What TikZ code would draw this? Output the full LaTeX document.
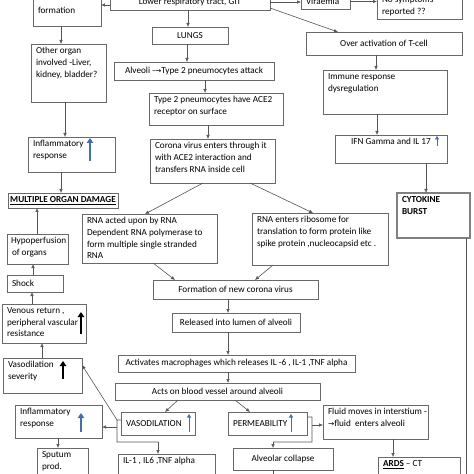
\documentclass[tikz,border=0pt]{standalone}
\usepackage{fontspec}
\setmainfont{Carlito}
\newfontfamily\djv{DejaVu Sans}
\usetikzlibrary{arrows.meta}
\definecolor{arblue}{RGB}{70,110,170}
\definecolor{lncol}{RGB}{85,85,85}
\definecolor{bxcol}{RGB}{105,105,105}
\newcommand\rarr{{\djv\fontsize{7.5bp}{10bp}\selectfont →}}
\newcommand\bxt[7][\raggedright]{\node[box,anchor=north west] (#2) at (#3,#4) {\parbox[c][\dimexpr#6bp-#4bp\relax][t]{\dimexpr#5bp-#3bp-10bp\relax}{#1\vspace*{3.5bp}#7}};}
\newcommand\bxc[7][\centering]{\node[box,anchor=north west] (#2) at (#3,#4) {\parbox[c][\dimexpr#6bp-#4bp\relax][c]{\dimexpr#5bp-#3bp-10bp\relax}{#1#7}};}
\newcommand\vcon[3]{\coordinate (tmpx) at (#3,0); \draw[arr] (#1.south -| tmpx) -- (#2.north -| tmpx);}
\newcommand\vup[3]{\coordinate (tmpx) at (#3,0); \draw[arr] (#1.north -| tmpx) -- (#2.south -| tmpx);}
\newcommand\dcon[4]{\coordinate (tmpa) at (#3,0); \coordinate (tmpb) at (#4,0); \draw[arr] (#1.south -| tmpa) -- (#2.north -| tmpb);}
\tikzset{
  box/.style={draw=bxcol, line width=0.7bp, inner xsep=5bp, inner ysep=0pt, outer sep=0pt, text=black, font=\fontsize{9.2bp}{11.7bp}\selectfont},
  arr/.style={draw=lncol, line width=0.6bp, -{Latex[length=4bp,width=3.6bp]}},
  ln/.style={draw=lncol, line width=0.6bp},
  bigup/.style={line width=2.3bp, -{Triangle[length=5bp,width=6.5bp]}},
  smallup/.style={line width=1bp, -{Triangle[length=3.5bp,width=4bp]}}
}
\begin{document}
\begin{tikzpicture}[x=1bp,y=-1bp]
\useasboundingbox (0,0) rectangle (474,474);
\fill[white] (0,0) rectangle (474,474);
\clip (0,0) rectangle (474,474);
% top row
\bxc[\raggedright]{form}{33}{-6}{101}{26}{formation}
\bxc{lrt}{110}{-6}{270}{10}{Lower respiratory tract, GIT}
\bxc[\raggedright]{vir}{301}{-6}{350}{9}{Viraemia}
\bxc[\raggedright]{nos}{377}{-6}{462}{19}{No symptoms\\reported ??}
% centre column
\bxc{lungs}{152}{27}{228}{44}{LUNGS}
\bxc{alv}{114}{62}{274}{80}{Alveoli -\rarr Type 2 pneumocytes attack}
\bxt{type2}{149}{93}{283}{125}{Type 2 pneumocytes have ACE2\\receptor on surface}
\bxt{corona}{150}{139}{275}{183}{Corona virus enters through it\\with ACE2 interaction and\\transfers RNA inside cell}
\bxt{rnaa}{82}{214}{217}{263}{RNA acted upon by RNA\\Dependent RNA polymerase to\\form multiple single stranded\\RNA}
\bxt{rnab}{252}{213}{388}{265}{RNA enters ribosome for\\translation to form protein like\\spike protein ,nucleocapsid etc .}
\bxc{formv}{153}{280}{318}{299}{Formation of new corona virus}
\bxc{rel}{172}{313}{300}{332}{Released into lumen of alveoli}
\bxc{act}{118}{355}{355}{372}{\makebox[\linewidth]{Activates macrophages which releases IL -6 , IL-1 ,TNF alpha}}
\bxc{acts}{115}{383}{320}{400}{Acts on blood vessel around alveoli}
\bxc[\raggedright]{vaso}{121}{412}{195}{435}{VASODILATION}
\bxc[\raggedright]{perm}{228}{412}{307}{435}{PERMEABILITY}
\bxc{alvc}{233}{448}{333}{470}{Alveolar collapse}
\bxt{il}{118}{454}{215}{490}{IL-1 , IL6 ,TNF alpha}
\bxt{fluid}{323}{405}{428}{439}{\mbox{Fluid moves in interstium -}\\\mbox{\rarr fluid\ \ enters alveoli}}
\bxt{ards}{378}{457}{460}{490}{\textbf{\underline{ARDS}} – CT}
% right column
\bxc{tcell}{306}{32}{462}{55}{Over activation of T-cell}
\bxt{imm}{323}{70}{447}{114}{Immune response\\dysregulation}
\bxt{ifn}{335}{135}{447}{163}{\hspace*{11bp}IFN Gamma and IL 17}
\bxt{cyto}{397}{193}{470}{238}{\textbf{CYTOKINE}\\\textbf{BURST}}
\draw[bxcol!85, line width=2bp] (cyto.north west) rectangle (cyto.south east);
% left column
\bxt{other}{31}{44}{106}{102}{Other organ\\involved -Liver,\\kidney, bladder?}
\bxt{infla}{28}{137}{115}{172}{Inflammatory\\response}
\bxc{mod}{8}{193}{118}{208}{\makebox[\linewidth]{\textbf{\underline{MULTIPLE ORGAN DAMAGE}}}}
\bxt{hypo}{7}{234}{68}{264}{\hspace*{-1bp}\mbox{Hypoperfusion}\\of organs}
\bxc[\raggedright]{shock}{7}{275}{63}{292}{Shock}
\bxt{ven}{2}{304}{86}{343}{Venous return ,\\peripheral vascular\\resistance}
\bxt{vsev}{3}{358}{82}{393}{Vasodilation\\severity}
\bxt{inflb}{15}{405}{102}{438}{Inflammatory\\response}
\bxt{sput}{37}{448}{88}{490}{Sputum\\prod.}
% up arrows inside boxes
\draw[bigup, arblue] (90,161) -- (90,138);
\draw[bigup, black] (81,334) -- (81,312);
\draw[bigup, black, line width=1.8bp] (63,379) -- (63,361);
\draw[bigup, arblue, line width=1.6bp] (81,432) -- (81,413);
\draw[smallup, arblue] (437,146) -- (437,136);
\draw[smallup, arblue] (189,432) -- (189,414);
\draw[smallup, arblue] (291,432) -- (291,414);
% connectors
\path ([yshift=-3bp]lrt.west) coordinate (c1);
\draw[arr] (c1) -- (c1 -| form.east);
\draw[arr] (lrt.east) -- (lrt.east -| vir.west);
\draw[arr] (vir.east) -- (vir.east -| nos.west);
\coordinate (tx) at (338,0);
\draw[arr] ([yshift=2bp]lrt.south east) -- (tcell.north -| tx);
\vcon{lrt}{lungs}{188}
\vcon{form}{other}{61}
\vcon{lungs}{alv}{187}
\vcon{alv}{type2}{205}
\vcon{type2}{corona}{208}
\dcon{corona}{rnaa}{203}{145}
\dcon{corona}{rnab}{250}{313}
\dcon{rnaa}{formv}{153}{175}
\dcon{rnab}{formv}{273}{255}
\vcon{formv}{rel}{228}
\vcon{rel}{act}{228}
\vcon{act}{acts}{228}
\dcon{acts}{vaso}{178}{165}
\dcon{acts}{perm}{235}{250}
\vcon{tcell}{imm}{376}
\vcon{imm}{ifn}{377}
\vcon{ifn}{cyto}{426}
\vcon{other}{infla}{65}
\vcon{infla}{mod}{61}
\vup{hypo}{mod}{37}
\vup{shock}{hypo}{33}
\vup{ven}{shock}{32}
\vup{vsev}{ven}{42}
\vcon{inflb}{sput}{58}
\vcon{fluid}{ards}{393}
\coordinate (cyend) at (466,480);
\draw[ln] (cyto.south -| cyend) -- (cyend);
\coordinate (alend) at (273,480);
\draw[ln] (alvc.south -| alend) -- (alend);
% vasodilation bracket
\path ([yshift=3.5bp]vaso.west) coordinate (va);
\coordinate (vb) at (117,420);
\coordinate (vc) at (117,442);
\coordinate (vd) at (158,442);
\coordinate (vi) at (117,427);
\draw[ln] (va) -- (vb) -- (vc) -- (vd);
\draw[arr] (vd) -- (vd |- il.north);
\path ([yshift=10.5bp]vsev.east) coordinate (vse);
\draw[arr] (vb) -- (vse);
\draw[arr] (vi) -- (vi -| inflb.east);
% permeability bracket
\path ([yshift=6.5bp]perm.east) coordinate (pa);
\coordinate (pb) at (312,417);
\coordinate (pc) at (312,442);
\coordinate (pd) at (273,442);
\coordinate (pf) at (312,425);
\draw[ln] (pa) -- (pb) -- (pc) -- (pd);
\draw[arr] (pd) -- (pd |- alvc.north);
\draw[arr] (pf) -- (pf -| fluid.west);
\end{tikzpicture}
\end{document}
